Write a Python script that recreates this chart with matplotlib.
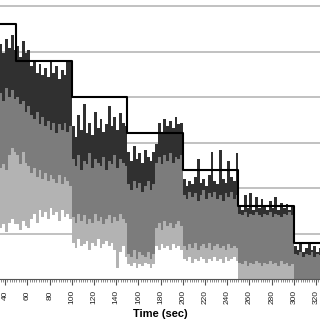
import matplotlib.pyplot as plt
import numpy as np

plt.rcParams['font.family'] = ['Liberation Sans', 'DejaVu Sans']

# ------- data (2.5 s samples starting at 35 s)
t_start, t_step = 35, 2.5

dark_top = [129, 124, 132, 127, 134, 126,
            128, 122, 131, 124, 126, 117, 119, 113, 118, 112,
            116, 111, 119, 113, 117, 110, 115, 112, 119, 120,
            84, 78, 90, 82, 96, 80, 86, 79, 92, 83,
            88, 81, 85, 95, 84, 89, 82, 91, 86, 84,
            70, 65, 73, 66, 69, 64, 71, 67, 65, 70,
            74, 86, 80, 88, 84, 87, 83, 89, 85, 86,
            55, 51, 54, 52, 56, 66, 53, 55, 51, 57,
            70, 54, 52, 71, 55, 53, 65, 56, 54, 69,
            40, 38, 46, 39, 47, 38, 45, 39, 44, 40,
            38, 43, 39, 45, 38, 42, 39, 41, 38, 40,
            18, 16, 19, 15, 17, 19, 16, 18, 15, 17, 16]

mid_top = [102, 98, 105, 100, 104, 99,
           100, 96, 98, 92, 95, 90, 88, 92, 85, 89,
           84, 87, 82, 86, 80, 85, 82, 86, 81, 84,
           66, 62, 68, 60, 65, 63, 69, 61, 66, 64,
           62, 67, 60, 65, 63, 68, 61, 66, 64, 62,
           52, 49, 54, 50, 53, 48, 51, 54, 49, 52,
           64, 67, 63, 68, 65, 69, 64, 67, 66, 68,
           46, 44, 48, 45, 47, 43, 46, 49, 44, 47,
           45, 48, 44, 46, 43, 47, 45, 48, 44, 46,
           36, 35, 37, 34, 36, 35, 37, 35, 34, 36,
           35, 37, 34, 36, 35, 34, 36, 35, 37, 35,
           14, 13, 15, 12, 14, 13, 15, 12, 14, 13, 14]

light_top = [61, 63, 60, 68, 72, 70,
             68, 63, 70, 64, 62, 58, 61, 56, 60, 55,
             58, 54, 57, 55, 53, 57, 52, 56, 54, 51,
             34, 31, 36, 32, 35, 30, 33, 31, 36, 32,
             34, 30, 33, 35, 31, 34, 32, 36, 33, 31,
             14, 12, 16, 11, 15, 13, 12, 15, 11, 14,
             28, 31, 27, 32, 29, 31, 28, 30, 32, 29,
             18, 16, 19, 17, 20, 16, 18, 19, 17, 20,
             16, 18, 19, 17, 18, 16, 19, 17, 18, 17,
             9, 8, 10, 7, 9, 8, 10, 9, 7, 9,
             8, 10, 8, 9, 7, 10, 8, 9, 7, 8,
             0, 0, 0, 0, 0, 0, 0, 0, 0, 0, 0]

floor = [28, 30, 26, 31, 33, 30,
         30, 27, 32, 29, 28, 33, 36, 31, 38, 34,
         37, 33, 39, 35, 37, 32, 38, 34, 36, 33,
         20, 17, 22, 18, 19, 21, 16, 20, 18, 22,
         17, 19, 21, 18, 20, 16, 6, 15, 18, 12,
         8, 7, 9, 6, 8, 7, 9, 8, 6, 8,
         18, 16, 19, 17, 18, 16, 19, 17, 18, 16,
         11, 10, 12, 9, 11, 10, 12, 11, 9, 11,
         10, 12, 10, 11, 9, 12, 10, 11, 12, 10,
         0, 0, 0, 0, 0, 0, 0, 0, 0, 0,
         0, 0, 0, 0, 0, 0, 0, 0, 0, 0,
         0, 0, 0, 0, 0, 0, 0, 0, 0, 0, 0]

step_times = [0, 50, 100, 150, 200, 250, 300, 330]
step_levels = [140, 120, 100, 80, 60, 40, 20, 20]

t = t_start + t_step * np.arange(len(dark_top))

# ------ plotting
fig = plt.figure(figsize=(3.2, 3.2), dpi=100)
ax = fig.add_axes([0, 0.128, 1, 0.872])

ax.fill_between(t, floor, dark_top, step='post', color='#303030', lw=0)
ax.fill_between(t, floor, mid_top, step='post', color='#7c7c7c', lw=0)
ax.fill_between(t, floor, light_top, step='post', color='#b3b3b3', lw=0)
ax.step(step_times, step_levels, where='post', color='black', lw=1.5, zorder=5)

ax.set_xlim(35.3, 323.5)
ax.set_ylim(0, 153.3)
ax.set_yticks(np.arange(25, 151, 25))
ax.yaxis.grid(True, color='#b0b0b0', lw=1.1)
ax.set_axisbelow(True)
ax.tick_params(axis='y', left=False, labelleft=False)

ax.set_xticks(np.arange(40, 321, 20))
ax.set_xticks(np.arange(36, 324, 2), minor=True)
ax.tick_params(axis='x', which='major', length=4, color='#555555',
               labelsize=6, labelrotation=90, labelcolor='#222222', pad=4)
ax.tick_params(axis='x', which='minor', length=2.5, color='#777777')

for s in ['left', 'right', 'top']:
    ax.spines[s].set_visible(False)
ax.spines['bottom'].set_color('#555555')

ax.set_xlabel('Time (sec)', fontsize=8, fontweight='bold', labelpad=3)

fig.savefig('out.png', dpi=100)
